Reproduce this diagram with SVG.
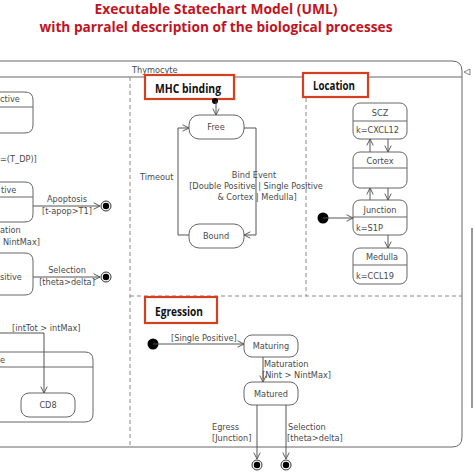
<svg xmlns="http://www.w3.org/2000/svg" width="474" height="474" viewBox="0 0 474 474">
<defs>
<marker id="arr" viewBox="0 0 10 10" refX="9" refY="5" markerWidth="8" markerHeight="8" markerUnits="userSpaceOnUse" orient="auto">
<path d="M1,1 L9,5 L1,9" fill="none" stroke="#555" stroke-width="1.2"/>
</marker>
</defs>
<style>
.t{font-family:"DejaVu Sans",Verdana,sans-serif;font-size:8.2px;fill:#4a4a4a}
.c{text-anchor:middle}
.st{fill:#fff;stroke:#666;stroke-width:1}
.ln{fill:none;stroke:#666;stroke-width:1}
.dash{fill:none;stroke:#888;stroke-width:1;stroke-dasharray:4,3}
.tr{fill:none;stroke:#555;stroke-width:1;marker-end:url(#arr)}
.lab{fill:#fff;stroke:#d2401f;stroke-width:2.2}
.labt{font-family:"Open Sans","Liberation Sans",sans-serif;font-weight:bold;font-size:12.5px;fill:#111}
.title{font-family:"Open Sans","Liberation Sans",sans-serif;font-weight:bold;font-size:14px;fill:#c0141e;text-anchor:middle}
.dot{fill:#000}
</style>
<rect width="474" height="474" fill="#fff"/>
<text class="title" x="216" y="14" textLength="243" lengthAdjust="spacingAndGlyphs">Executable Statechart Model (UML)</text>
<text class="title" x="216" y="32" textLength="353" lengthAdjust="spacingAndGlyphs">with parralel description of the biological processes</text>

<g id="thymocyte">
<path class="ln" d="M0,61 H452 Q462,61 462,71 V437 Q462,447 452,447 H0"/>
<line class="ln" x1="0" y1="77" x2="462" y2="77"/>
<text class="t" x="132" y="73">Thymocyte</text>
<path d="M470,69 L464,72 L470,75 Z" fill="#fff" stroke="#666" stroke-width="0.8"/>
<line x1="472" y1="228" x2="472" y2="408" stroke="#999" stroke-width="2"/>
<line class="dash" x1="130" y1="77" x2="130" y2="447"/>
<line class="dash" x1="306" y1="77" x2="306" y2="296"/>
<line class="dash" x1="130" y1="296" x2="462" y2="296"/>
</g>

<g id="left-states">
<path class="st" d="M-10,92 H25 Q33,92 33,100 V125 Q33,133 25,133 H-10 Z"/>
<line class="ln" x1="0" y1="107" x2="33" y2="107"/>
<text class="t" x="0" y="102">ctive</text>
<text class="t" x="0" y="162">=(T_DP)]</text>
<path class="st" d="M-10,182 H25 Q33,182 33,190 V214 Q33,222 25,222 H-10 Z"/>
<line class="ln" x1="0" y1="197" x2="33" y2="197"/>
<text class="t" x="1" y="193">tive</text>
<text class="t" x="0" y="233">ation</text>
<text class="t" x="3" y="245">NintMax]</text>
<path class="st" d="M-10,253 H25 Q33,253 33,261 V287 Q33,295 25,295 H-10 Z"/>
<text class="t" x="0" y="280">sitive</text>
<text class="t" x="12" y="331">[intTot &gt; intMax]</text>
<path class="st" d="M-10,352 H85 Q93,352 93,360 V414 Q93,422 85,422 H-10 Z"/>
<line class="ln" x1="0" y1="367" x2="93" y2="367"/>
<text class="t" x="0" y="363">e</text>
</g>
<g id="cd8">
<rect class="st" x="21" y="393" width="54" height="24" rx="8"/>
<text class="t c" x="48" y="408">CD8</text>
</g>
<g id="final-apop"><circle cx="106" cy="206" r="5" fill="#fff" stroke="#333"/><circle class="dot" cx="106" cy="206" r="3.2"/></g>
<g id="final-sel-left"><circle cx="106" cy="277" r="5" fill="#fff" stroke="#333"/><circle class="dot" cx="106" cy="277" r="3.2"/></g>

<g id="mhc-label"><rect class="lab" x="145" y="75" width="89" height="24"/><text class="labt" x="155" y="93" textLength="66" lengthAdjust="spacingAndGlyphs">MHC binding</text></g>
<g id="free"><rect class="st" x="189" y="115" width="55" height="24" rx="10"/><text class="t c" x="216" y="130">Free</text></g>
<g id="bound"><rect class="st" x="189" y="224" width="55" height="24" rx="10"/><text class="t c" x="216" y="239">Bound</text></g>

<g id="location-label"><rect class="lab" x="303" y="73" width="65" height="24"/><text class="labt" x="313" y="90" textLength="42" lengthAdjust="spacingAndGlyphs">Location</text></g>
<g id="scz"><rect class="st" x="353" y="103" width="54" height="36" rx="7"/><line class="ln" x1="353" y1="121" x2="407" y2="121"/><text class="t c" x="380" y="116">SCZ</text><text class="t" x="356" y="133">k=CXCL12</text></g>
<g id="cortex"><rect class="st" x="353" y="152" width="54" height="36" rx="7"/><line class="ln" x1="353" y1="168" x2="407" y2="168"/><text class="t c" x="380" y="164">Cortex</text></g>
<g id="junction"><rect class="st" x="353" y="200" width="54" height="35" rx="7"/><line class="ln" x1="353" y1="217" x2="407" y2="217"/><text class="t c" x="380" y="213">Junction</text><text class="t" x="356" y="231">k=S1P</text></g>
<g id="medulla"><rect class="st" x="353" y="248" width="54" height="36" rx="7"/><line class="ln" x1="353" y1="265" x2="407" y2="265"/><text class="t c" x="382" y="260">Medulla</text><text class="t" x="356" y="279">k=CCL19</text></g>
<g id="loc-init"><circle class="dot" cx="323" cy="218" r="5.5"/></g>

<g id="egression-label"><rect class="lab" x="145" y="297" width="72" height="26"/><text class="labt" x="155" y="316" textLength="48" lengthAdjust="spacingAndGlyphs">Egression</text></g>
<g id="egr-init"><circle class="dot" cx="153" cy="344" r="5.5"/></g>
<g id="maturing"><rect class="st" x="244" y="335" width="54" height="22" rx="8"/><text class="t c" x="271" y="349">Maturing</text></g>
<g id="matured"><rect class="st" x="244" y="382" width="54" height="23" rx="8"/><text class="t c" x="271" y="397">Matured</text></g>
<g id="final-egress"><circle cx="257" cy="465" r="5" fill="#fff" stroke="#333"/><circle class="dot" cx="257" cy="465" r="3.2"/></g>
<g id="final-selection"><circle cx="286" cy="465" r="5" fill="#fff" stroke="#333"/><circle class="dot" cx="286" cy="465" r="3.2"/></g>

<g id="connectors">
<path class="tr" d="M33,206 H100"/>
<text class="t c" x="67" y="202">Apoptosis</text>
<text class="t c" x="67" y="214">[t-apop&gt;T1]</text>
<path class="tr" d="M33,277 H100"/>
<text class="t c" x="67" y="273">Selection</text>
<text class="t c" x="67" y="285">[theta&gt;delta]</text>
<path class="tr" d="M0,333 H44 V393"/>

<circle class="dot" cx="215" cy="101" r="3"/>
<path class="tr" d="M216,101 V115"/>
<path class="tr" d="M189,235 H178 V128 H189"/>
<text class="t" x="140" y="180">Timeout</text>
<path class="tr" d="M244,128 H256 V235 H244"/>
<text class="t c" x="254" y="178">Bind Event</text>
<text class="t c" x="256" y="189">[Double Positive | Single Positive</text>
<text class="t c" x="257" y="200">&amp; Cortex | Medulla]</text>

<path class="tr" d="M370,152 V139"/>
<path class="tr" d="M388,139 V152"/>
<path class="tr" d="M370,200 V188"/>
<path class="tr" d="M388,188 V200"/>
<path class="tr" d="M388,235 V248"/>
<path class="tr" d="M323,218 H353"/>

<path class="tr" d="M153,344 H244"/>
<text class="t" x="171" y="341">[Single Positive]</text>
<path class="tr" d="M263,357 V382"/>
<text class="t" x="264" y="367">Maturation</text>
<text class="t" x="262" y="378">[Nint &gt; NintMax]</text>
<path class="tr" d="M257,405 V459"/>
<text class="t" x="212" y="430">Egress</text>
<text class="t" x="212" y="441">[Junction]</text>
<path class="tr" d="M286,405 V459"/>
<text class="t" x="288" y="430">Selection</text>
<text class="t" x="287" y="441">[theta&gt;delta]</text>
</g>
</svg>
